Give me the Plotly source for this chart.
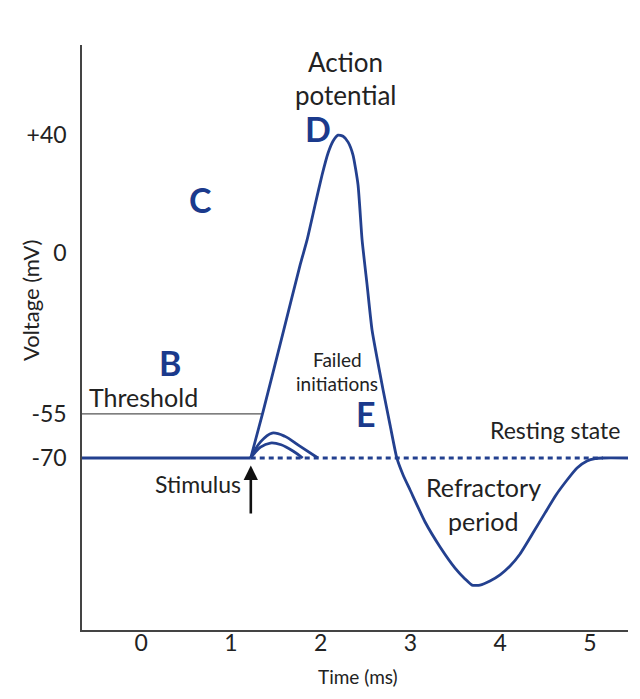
import plotly.graph_objects as go

# ---- data (time in ms, voltage in mV) ----
rest_t = [-0.659, 1.221]
rest_v = [-70, -70]

ap_t = [1.221, 1.358, 1.581, 1.771, 1.849, 1.938, 2.016, 2.083, 2.139, 2.194, 2.250,
        2.306, 2.361, 2.417, 2.462, 2.518, 2.573, 2.696, 2.774, 2.849, 2.919, 2.997,
        3.164, 3.331, 3.498, 3.609, 3.687, 3.776, 3.887, 3.999, 4.111, 4.222, 4.367,
        4.501, 4.623, 4.746, 4.857, 4.968, 5.058, 5.147, 5.425]
ap_v = [-70, -54.3, -27.4, -4.3, 4.3, 16.2, 26.4, 33.9, 38.0, 40.0, 39.6,
        37.6, 33.2, 23.0, 4.3, -11.1, -26.4, -46.8, -58.8, -70, -75.8, -80.9,
        -91.8, -100.3, -107.5, -111.2, -113.3, -113.3, -111.9, -109.8, -106.8, -102.7, -95.5,
        -88.7, -82.6, -77.5, -73.4, -71.0, -70.2, -70, -70]

fail1_t = [1.221, 1.33, 1.46, 1.60, 1.76, 1.97]
fail1_v = [-70, -64.5, -61.5, -62.6, -65.8, -70]
fail2_t = [1.221, 1.33, 1.44, 1.56, 1.70, 1.80]
fail2_v = [-70, -66.3, -64.9, -65.5, -67.8, -70]

resting_dash_t = [1.221, 5.147]
resting_dash_v = [-70, -70]

threshold_t = [-0.659, 1.358]
threshold_v = [-55, -55]

x_ticks = [0, 1, 2, 3, 4, 5]
y_tick_vals = [40, 0, -55, -70]
y_tick_text = ["+40", "0", "-55", "-70"]

BLUE = "#23408f"
LETTER = "#1b3a8c"
FONT = "Lato"

fig = go.Figure()
fig.add_trace(go.Scatter(x=threshold_t, y=threshold_v, mode="lines",
                         line=dict(color="#555555", width=1.3), hoverinfo="skip"))
fig.add_trace(go.Scatter(x=resting_dash_t, y=resting_dash_v, mode="lines",
                         line=dict(color=BLUE, width=2.8, dash="5px,4px"), hoverinfo="skip"))
fig.add_trace(go.Scatter(x=rest_t, y=rest_v, mode="lines",
                         line=dict(color=BLUE, width=2.8), hoverinfo="skip"))
fig.add_trace(go.Scatter(x=fail1_t, y=fail1_v, mode="lines",
                         line=dict(color=BLUE, width=2.8, shape="spline", smoothing=1.0), hoverinfo="skip"))
fig.add_trace(go.Scatter(x=fail2_t, y=fail2_v, mode="lines",
                         line=dict(color=BLUE, width=2.8, shape="spline", smoothing=1.0), hoverinfo="skip"))
fig.add_trace(go.Scatter(x=ap_t, y=ap_v, mode="lines",
                         line=dict(color=BLUE, width=2.8, shape="spline", smoothing=0.5), hoverinfo="skip"))

def txt(x, y, s, size=19, color="#222222", bold=False, xanchor="center", xref="x", yref="y", angle=0):
    fig.add_annotation(x=x, y=y, xref=xref, yref=yref, text=(f"<b>{s}</b>" if bold else s),
                       showarrow=False, xanchor=xanchor, yanchor="middle", textangle=angle,
                       font=dict(family=FONT, size=size, color=color))

txt(2.272, 64.9, "Action", size=26)
txt(2.272, 53.6, "potential", size=26)
txt(1.972, 42.4, "D", size=34, color=LETTER, bold=True)
txt(0.656, 17.9, "C", size=34, color=LETTER, bold=True)
txt(0.322, -37.3, "B", size=34, color=LETTER, bold=True)
txt(-1.237, -77.5, "A", size=37, color=LETTER, bold=True)
txt(2.505, -55.0, "E", size=34, color=LETTER, bold=True)
txt(-0.60, -49.2, "Threshold", size=25, xanchor="left")
txt(1.137, -78.9, "Stimulus", size=23, xanchor="right")
txt(2.183, -36.6, "Failed", size=19)
txt(2.183, -44.5, "initiations", size=19)
txt(4.613, -60.5, "Resting state", size=23)
txt(3.81, -79.9, "Refractory", size=25)
txt(3.81, -91.5, "period", size=25)
txt(-0.0952, 0.564, "Voltage (mV)", size=22, xref="paper", yref="paper", angle=-90)
txt(0.505, -0.080, "Time (ms)", size=19, xref="paper", yref="paper")

fig.add_annotation(x=1.222, y=-72.6, ax=1.222, ay=-89.4, xref="x", yref="y", axref="x", ayref="y",
                   text="", showarrow=True, arrowhead=2, arrowsize=1.1, arrowwidth=2.6,
                   arrowcolor="#111111")

fig.update_layout(
    width=632, height=691,
    margin=dict(l=74, r=12, t=37, b=69),
    paper_bgcolor="white", plot_bgcolor="white",
    showlegend=False,
    font=dict(family=FONT, color="#222222"),
    xaxis=dict(range=[-0.659, 5.425], tickvals=x_ticks, ticks="", ticklen=0, showgrid=False, zeroline=False,
               showline=True, linecolor="#444444", linewidth=1.5, ticklabelstandoff=-8,
               tickfont=dict(family=FONT, size=23, color="#222222")),
    yaxis=dict(range=[-128.6, 70.7], tickvals=y_tick_vals, ticktext=y_tick_text, ticks="", ticklen=0,
               showgrid=False, zeroline=False, showline=True, linecolor="#444444", linewidth=1.5,
               ticklabelstandoff=9,
               tickfont=dict(family=FONT, size=23, color="#222222")),
)

fig.write_html("out.html")
